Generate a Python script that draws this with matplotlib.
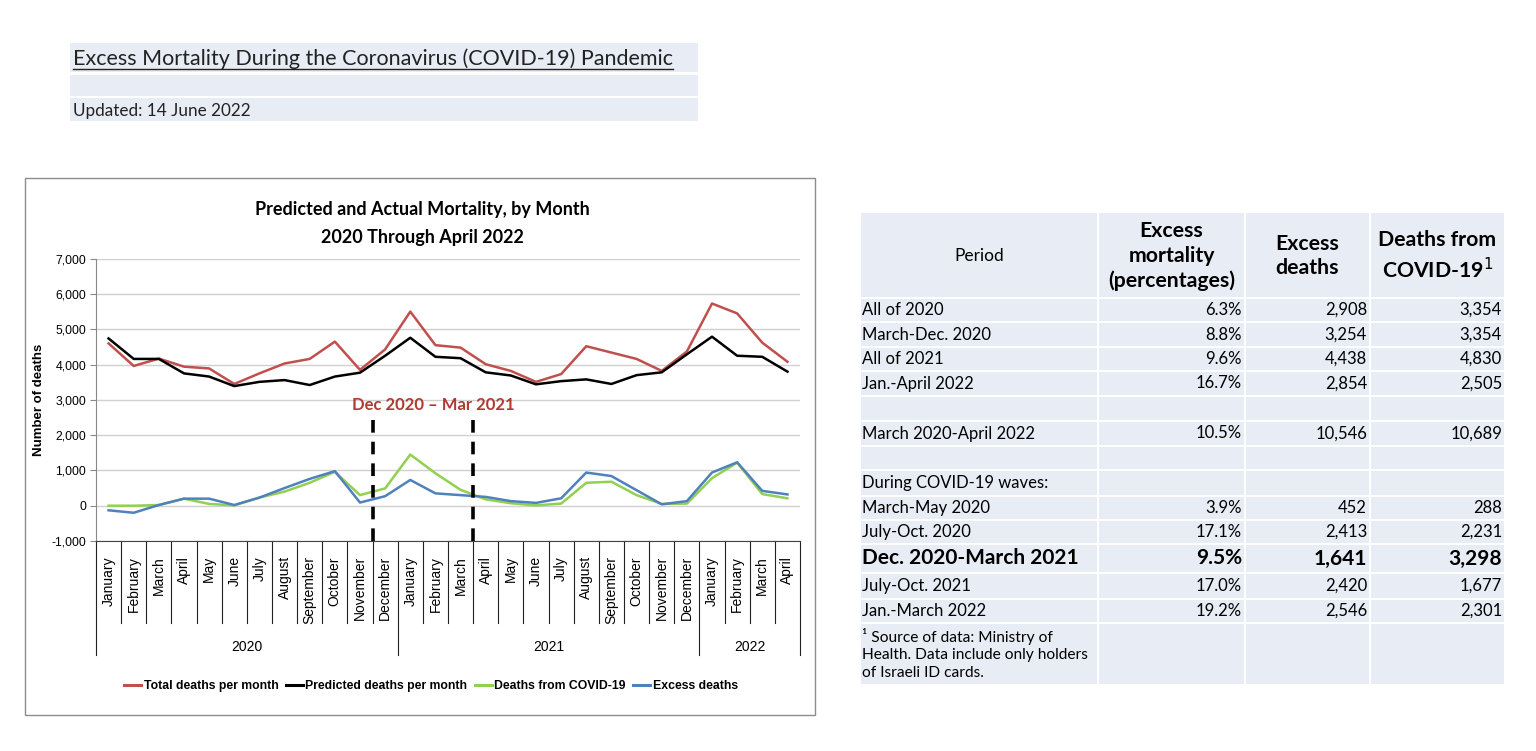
import matplotlib
matplotlib.use('Agg')
import matplotlib.pyplot as plt
from matplotlib.patches import Rectangle
from matplotlib.lines import Line2D
from matplotlib.transforms import blended_transform_factory

# ## Data
months = ['January', 'February', 'March', 'April', 'May', 'June', 'July', 'August',
          'September', 'October', 'November', 'December'] * 2 + ['January', 'February', 'March', 'April']
years = ['2020', '2021', '2022']
year_start = [0, 12, 24, 28]

total_deaths = [4600, 3960, 4170, 3940, 3890, 3450, 3750, 4030, 4160, 4650, 3850, 4430,
                5500, 4550, 4480, 4010, 3820, 3510, 3730, 4520, 4340, 4160, 3820, 4370,
                5730, 5450, 4620, 4080]
predicted_deaths = [4740, 4160, 4160, 3750, 3660, 3390, 3510, 3560, 3420, 3660, 3770, 4250,
                    4760, 4220, 4180, 3780, 3690, 3440, 3530, 3580, 3450, 3700, 3780, 4290,
                    4790, 4250, 4220, 3800]
covid_deaths = [0, 0, 20, 200, 50, 10, 230, 400, 650, 960, 300, 490,
                1450, 920, 450, 180, 70, 10, 60, 650, 680, 300, 50, 60,
                780, 1220, 330, 210]
excess_deaths = [-130, -200, 20, 200, 200, 20, 230, 500, 760, 980, 90, 270,
                 730, 350, 300, 250, 130, 80, 210, 940, 840, 440, 40, 130,
                 940, 1230, 420, 320]
wave_bounds = [10.5, 14.5]

table_header = ['Period', 'Excess\nmortality\n(percentages)', 'Excess\ndeaths', 'Deaths from\nCOVID-19$^1$']
table_periods = ['All of 2020', 'March-Dec. 2020', 'All of 2021', 'Jan.-April 2022', '',
                 'March 2020-April 2022', '', 'During COVID-19 waves:', 'March-May 2020',
                 'July-Oct. 2020', 'Dec. 2020-March 2021', 'July-Oct. 2021', 'Jan.-March 2022']
table_pct = ['6.3%', '8.8%', '9.6%', '16.7%', '', '10.5%', '', '', '3.9%', '17.1%', '9.5%', '17.0%', '19.2%']
table_excess = ['2,908', '3,254', '4,438', '2,854', '', '10,546', '', '', '452', '2,413', '1,641', '2,420', '2,546']
table_covid = ['3,354', '3,354', '4,830', '2,505', '', '10,689', '', '', '288', '2,231', '3,298', '1,677', '2,301']
footnote = '\u00b9 Source of data: Ministry of\nHealth. Data include only holders\nof Israeli ID cards.'

W, H = 1536, 751
red, green, blue = '#c0504d', '#92d050', '#4f81bd'
band = '#e8ecf5'
cal = ['Lato', 'DejaVu Sans']
arial = ['Liberation Sans', 'DejaVu Sans']
narrow = ['Liberation Sans Narrow', 'Liberation Sans', 'DejaVu Sans']

fig = plt.figure(figsize=(W / 100, H / 100), dpi=100)
bg = fig.add_axes([0, 0, 1, 1])
bg.set_xlim(0, W)
bg.set_ylim(H, 0)
bg.axis('off')

# ## Page heading
for y0, y1 in [(43, 72), (75, 96), (98, 121)]:
    bg.add_patch(Rectangle((70, y0), 628, y1 - y0, color=band, lw=0))
head = bg.text(73, 59, 'Excess Mortality During the Coronavirus (COVID-19) Pandemic', fontsize=15.5,
               family=cal, va='center', color='#222222')
bg.text(73, 111, 'Updated: 14 June 2022', fontsize=12.3, family=cal, va='center', color='#222222')

# ## Chart box
bg.add_patch(Rectangle((25, 178), 790, 537, fill=False, ec='#8c8c8c', lw=1))
bg.text(422, 210, 'Predicted and Actual Mortality, by Month', fontsize=13, weight='bold',
        family=cal, ha='center', va='center')
bg.text(422, 237, '2020 Through April 2022', fontsize=13, weight='bold', family=cal,
        ha='center', va='center')

ax_h = 541 - 258.7
ax = fig.add_axes([96 / W, 1 - 541 / H, 704 / W, ax_h / H])
ax.set_facecolor('none')
x = list(range(len(months)))
ax.plot(x, total_deaths, color=red, lw=1.8, label='Total deaths per month')
ax.plot(x, predicted_deaths, color='black', lw=1.8, label='Predicted deaths per month')
ax.plot(x, covid_deaths, color=green, lw=1.8, label='Deaths from COVID-19')
ax.plot(x, excess_deaths, color=blue, lw=1.8, label='Excess deaths')

ax.set_xlim(-0.5, len(months) - 0.5)
ax.set_ylim(-1000, 7000)
ax.set_yticks(range(-1000, 7001, 1000))
ax.set_yticklabels([f'{v:,}' for v in range(-1000, 7001, 1000)], family=arial, fontsize=8.8)
ax.yaxis.grid(True, color='#d0d0d0', lw=1)
ax.set_axisbelow(True)
ax.set_xticks([])
for s in ['top', 'right']:
    ax.spines[s].set_visible(False)
ax.spines['left'].set_color('#888888')
ax.spines['bottom'].set_color('#444444')
ax.tick_params(axis='y', length=4, color='#888888', pad=3)
ax.set_ylabel('Number of deaths', fontsize=9.5, weight='bold', family=arial, labelpad=5)

# wave markers
for b in wave_bounds:
    ax.plot([b, b], [-1000, 2550], color='black', lw=2.6, ls=(0, (3.5, 2.5)))
ax.text(12.9, 2850, 'Dec 2020 \u2013 Mar 2021', color='#b03a32', fontsize=12, weight='bold',
        family=cal, ha='center', va='center')

# multi-level category axis
trans = blended_transform_factory(ax.transData, ax.transAxes)
for k in range(len(months) + 1):
    yb = -114 / ax_h if k in year_start else -82 / ax_h
    ax.plot([k - 0.5, k - 0.5], [0, yb], transform=trans, clip_on=False, color='#222222', lw=0.8)
for i, m in enumerate(months):
    ax.text(i, -15 / ax_h, m, rotation=90, ha='center', va='top', transform=trans,
            fontsize=10, family=arial)
for j, yr in enumerate(years):
    mid = (year_start[j] + year_start[j + 1] - 1) / 2
    ax.text(mid, -106 / ax_h, yr, ha='center', va='center', transform=trans, fontsize=10, family=arial)

handles = [Line2D([], [], color=c, lw=2.2) for c in [red, 'black', green, blue]]
labels = ['Total deaths per month', 'Predicted deaths per month', 'Deaths from COVID-19', 'Excess deaths']
fig.legend(handles, labels, loc='center', bbox_to_anchor=(431 / W, 1 - 686 / H), ncol=4,
           frameon=False, handlelength=1.4, handletextpad=0.2, columnspacing=0.6,
           prop={'family': narrow, 'weight': 'bold', 'size': 8.8})

# ## Table
cols = [860, 1098, 1245, 1370, 1505]
rows = [212, 298, 322, 347, 371, 396, 421, 446, 470, 496, 520, 544, 573, 599, 623, 685]
for r0, r1 in zip(rows[:-1], rows[1:]):
    for c0, c1 in zip(cols[:-1], cols[1:]):
        bg.add_patch(Rectangle((c0 + 1, r0 + 1), c1 - c0 - 2, r1 - r0 - 2, color=band, lw=0))

bg.text((cols[0] + cols[1]) / 2, 256, table_header[0], fontsize=12.5, family=cal, ha='center', va='center')
for c in range(1, 4):
    bg.text((cols[c] + cols[c + 1]) / 2, 256, table_header[c], fontsize=15.3, weight='bold',
            family=cal, ha='center', va='center', linespacing=1.3)

for i, (p, a, b, c) in enumerate(zip(table_periods, table_pct, table_excess, table_covid)):
    yc = (rows[i + 1] + rows[i + 2]) / 2
    big = p.startswith('Dec.')
    kw = dict(fontsize=15 if big else 12, weight='bold' if big else 'normal', family=cal, va='center')
    bg.text(cols[0] + 2, yc, p, ha='left', **kw)
    bg.text(cols[2] - 3, yc, a, ha='right', **kw)
    bg.text(cols[3] - 3, yc, b, ha='right', **kw)
    bg.text(cols[4] - 3, yc, c, ha='right', **kw)
bg.text(cols[0] + 2, (rows[-2] + rows[-1]) / 2, footnote, fontsize=11.2, family=cal,
        ha='left', va='center', linespacing=1.3)

# underline the heading at the width of its text
fig.canvas.draw()
bb = head.get_window_extent().transformed(bg.transData.inverted())
bg.plot([bb.x0, bb.x1], [69, 69], color='#222222', lw=1)

fig.savefig('out.png', dpi=100)
